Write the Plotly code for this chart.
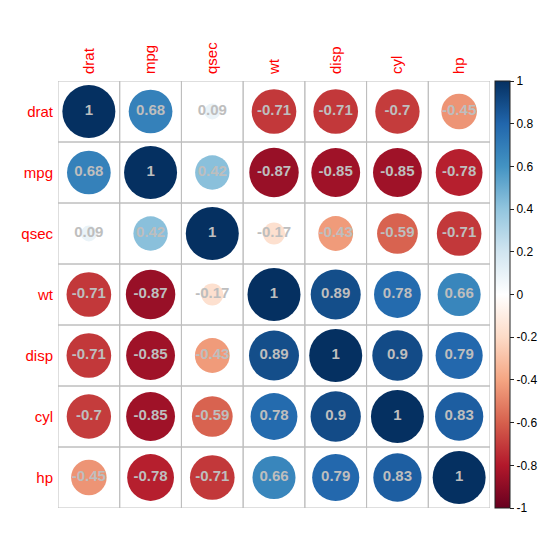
import plotly.graph_objects as go

# variables in hclust order, as in the corrplot
variables = ["drat", "mpg", "qsec", "wt", "disp", "cyl", "hp"]

# correlation values (rows top to bottom)
corr_drat = [1, 0.68, 0.09, -0.71, -0.71, -0.7, -0.45]
corr_mpg = [0.68, 1, 0.42, -0.87, -0.85, -0.85, -0.78]
corr_qsec = [0.09, 0.42, 1, -0.17, -0.43, -0.59, -0.71]
corr_wt = [-0.71, -0.87, -0.17, 1, 0.89, 0.78, 0.66]
corr_disp = [-0.71, -0.85, -0.43, 0.89, 1, 0.9, 0.79]
corr_cyl = [-0.7, -0.85, -0.59, 0.78, 0.9, 1, 0.83]
corr_hp = [-0.45, -0.78, -0.71, 0.66, 0.79, 0.83, 1]

colorbar_ticks = [1, 0.8, 0.6, 0.4, 0.2, 0, -0.2, -0.4, -0.6, -0.8, -1]

rows = [corr_drat, corr_mpg, corr_qsec, corr_wt, corr_disp, corr_cyl, corr_hp]

# RdBu palette used by corrplot
rdbu = ["#67001F", "#B2182B", "#D6604D", "#F4A582", "#FDDBC7", "#FFFFFF",
        "#D1E5F0", "#92C5DE", "#4393C3", "#2166AC", "#053061"]
colorscale = [[i / (len(rdbu) - 1), c] for i, c in enumerate(rdbu)]

xs, ys, vals, sizes, labels = [], [], [], [], []
for r, row in enumerate(rows):
    for c, v in enumerate(row):
        xs.append(c)
        ys.append(r)
        vals.append(v)
        # circle area proportional to |r|
        sizes.append(53 * abs(v) ** 0.5)
        labels.append(f"{v:g}")

fig = go.Figure()

# cell grid
n = len(variables)
for r in range(n):
    for c in range(n):
        fig.add_shape(type="rect", x0=c - 0.5, x1=c + 0.5, y0=r - 0.5, y1=r + 0.5,
                      line=dict(color="#BEBEBE", width=1), layer="below")

fig.add_trace(go.Scatter(
    x=xs, y=ys, mode="markers+text",
    text=labels,
    textfont=dict(family="Arial", size=15, color="#BEBEBE", weight="bold"),
    marker=dict(
        size=sizes, sizemode="diameter", color=vals,
        colorscale=colorscale, cmin=-1, cmax=1, line=dict(width=0),
        opacity=1,
        colorbar=dict(
            x=1.012, xanchor="left", xpad=0, ypad=0,
            y=0.5, yanchor="middle", len=1, lenmode="fraction",
            thickness=15, outlinewidth=1, outlinecolor="#222222",
            tickvals=colorbar_ticks, ticktext=[f"{t:g}" for t in colorbar_ticks],
            ticks="outside", ticklen=4, tickcolor="#222222",
            tickfont=dict(family="Arial", size=12, color="black"),
        ),
    ),
    hoverinfo="skip",
    showlegend=False,
))

fig.update_xaxes(
    range=[-0.5, n - 0.5], side="top", tickvals=list(range(n)), ticktext=variables,
    tickangle=-90, tickfont=dict(family="Arial", size=15, color="red"),
    showgrid=False, zeroline=False, showline=False, ticks="", ticklabelstandoff=6,
)
fig.update_yaxes(
    range=[n - 0.5, -0.5], tickvals=list(range(n)), ticktext=variables,
    tickfont=dict(family="Arial", size=15, color="red"),
    showgrid=False, zeroline=False, showline=False, ticks="", ticklabelstandoff=4,
)

# page body adds an 8px offset, so the figure is a bit smaller than the window
fig.update_layout(
    width=536, height=535,
    margin=dict(l=50, r=54, t=73, b=35, autoexpand=False),
    paper_bgcolor="white", plot_bgcolor="white",
)

fig.write_html("out.html")
